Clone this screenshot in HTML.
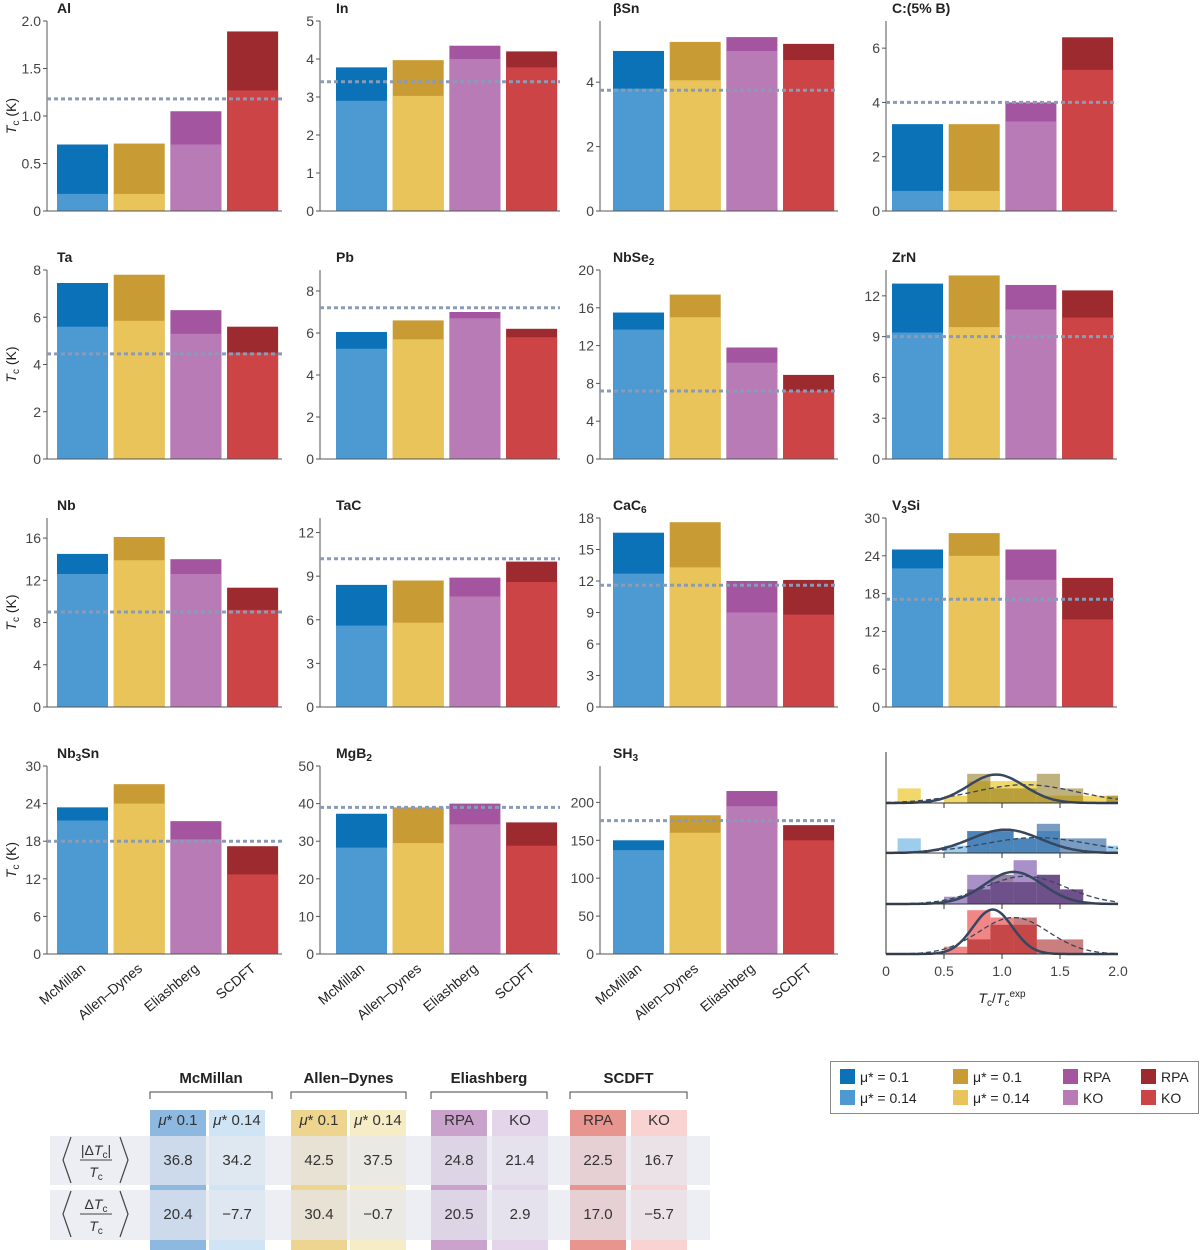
<!DOCTYPE html>
<html><head><meta charset="utf-8"><style>
body{margin:0;background:#fff;}
svg{display:block;font-family:"Liberation Sans",sans-serif;}
</style></head><body>
<svg id="fig" width="1200" height="1250" viewBox="0 0 1200 1250" xmlns="http://www.w3.org/2000/svg"></svg>
<script>
// ---- bar panel data ----
const panelNames = ["Al","In","βSn","C:(5% B)","Ta","Pb","NbSe|2","ZrN","Nb","TaC","CaC|6","V|3|Si","Nb|3|Sn","MgB|2","SH|3"];
const axisMax = [2.0,5,5.9,7,8,9,20,13.9,17.9,13,18,30,30,50,248];
const tickLabels = [
 [0,0.5,1.0,1.5,2.0],[0,1,2,3,4,5],[0,2,4],[0,2,4,6],
 [0,2,4,6,8],[0,2,4,6,8],[0,4,8,12,16,20],[0,3,6,9,12],
 [0,4,8,12,16],[0,3,6,9,12],[0,3,6,9,12,15,18],[0,6,12,18,24,30],
 [0,6,12,18,24,30],[0,10,20,30,40,50],[0,50,100,150,200]];
// totals (mu*0.1 / RPA) per method: McMillan, Allen-Dynes, Eliashberg, SCDFT
const totals = [
 [0.7,0.71,1.05,1.89],[3.78,3.97,4.35,4.2],[4.97,5.25,5.4,5.19],[3.2,3.2,4.0,6.4],
 [7.45,7.8,6.3,5.6],[6.05,6.6,7.0,6.2],[15.5,17.4,11.8,8.9],[12.9,13.5,12.8,12.4],
 [14.5,16.1,14.0,11.3],[8.4,8.7,8.9,10.0],[16.6,17.6,12.0,12.1],[25,27.6,25,20.5],
 [23.4,27.1,21.2,17.2],[37.3,39,40,35],[150,183,215,170]];
// lower values (mu*0.14 / KO)
const lowers = [
 [0.18,0.18,0.7,1.27],[2.9,3.03,4.0,3.78],[3.8,4.06,4.97,4.69],[0.74,0.74,3.3,5.2],
 [5.6,5.85,5.3,4.5],[5.25,5.7,6.7,5.8],[13.7,15,10.2,7.2],[9.3,9.7,11,10.4],
 [12.6,13.9,12.6,9.2],[5.6,5.8,7.6,8.6],[12.7,13.3,9,8.8],[22,24,20.2,13.9],
 [21.3,24,18.3,12.7],[28.3,29.5,34.5,28.8],[137,160,195,150]];
const expValues = [1.18,3.4,3.75,4.0,4.45,7.2,7.2,9.0,9.0,10.2,11.6,17.1,18.0,39,176];
const methods = ["McMillan","Allen–Dynes","Eliashberg","SCDFT"];

// ---- histogram data ----
const binStarts = [0.1,0.3,0.5,0.7,0.9,1.1,1.3,1.5,1.7,1.9];
const histLight = [[2,0,1,3,3,3,1,1,1,1],[2,0,1,3,3,2,3,0,0,1],[0,0,1,4,3,6,4,2,0,0],[0,0,1,6,5,4,0,0,0,0]];
const histDark  = [[0,0,0,4,2,2,4,2,0,1],[0,0,0,3,3,2,4,2,2,0],[0,0,0,2,4,3,4,2,0,0],[0,0,0,2,4,5,2,2,0,0]];
const fitSolidMean=[0.95,1.03,1.1,0.92], fitSolidSigma=[0.24,0.3,0.25,0.17], fitSolidAmp=[3.9,3.2,4.4,6.1];
const fitDashMean=[1.2,1.3,1.2,1.1], fitDashSigma=[0.45,0.45,0.35,0.3], fitDashAmp=[2.5,2.1,3.8,5.0];
const histTicks=[0,0.5,1.0,1.5,2.0];

// ---- table data ----
const tableCols = ["μ* 0.1","μ* 0.14","μ* 0.1","μ* 0.14","RPA","KO","RPA","KO"];
const absDev = ["36.8","34.2","42.5","37.5","24.8","21.4","22.5","16.7"];
const relDev = ["20.4","−7.7","30.4","−0.7","20.5","2.9","17.0","−5.7"];

const NS="http://www.w3.org/2000/svg";
const svg=document.getElementById('fig');
function mk(tag,attrs,parent){const e=document.createElementNS(NS,tag);for(const k in attrs)e.setAttribute(k,attrs[k]);(parent||svg).appendChild(e);return e;}
function subText(parent,str,x,y,size,weight,anchor){
  const t=mk('text',{x:x,y:y,'font-size':size,'font-weight':weight||'normal','text-anchor':anchor||'start',fill:'#222'},parent);
  str.split('|').forEach((p,i)=>{const s=mk('tspan',{},t);s.textContent=p;if(i%2==1){s.setAttribute('font-size',size*0.72);s.setAttribute('dy',3);}else if(i>0){s.setAttribute('dy',-3);}});
  return t;
}
const darkC=["#0b72b8","#c89b35","#a455a0","#9c2a2e"];
const lightC=["#4d9ad2","#e8c45a","#b87bb6","#cc4446"];
const colAxis=[47,320,600,886];
const colBar=[57,336,613,892];
const colRight=[282,560,838,1117];
const rowTop=[21,270,518,766];
const rowBase=[211,459,707,954];
const barW=51, barStep=56.7;

panelNames.forEach((name,i)=>{
  const r=Math.floor(i/4), c=i%4;
  const g=mk('g',{});
  
  
  const top=rowTop[r], base=rowBase[r], ax=colAxis[c];
  const y=v=>base-v/axisMax[i]*(base-top);
  for(let m=0;m<4;m++){
    const bx=colBar[c]+m*barStep;
    const b1=mk('rect',{x:bx,y:y(totals[i][m]),width:barW,height:base-y(totals[i][m]),fill:darkC[m]},g);
    
    
    const b2=mk('rect',{x:bx,y:y(lowers[i][m]),width:barW,height:base-y(lowers[i][m]),fill:lightC[m]},g);
    
    
  }
  mk('line',{x1:ax,y1:top,x2:ax,y2:base,stroke:'#555','stroke-width':1},g);
  mk('line',{x1:ax,y1:base,x2:colRight[c],y2:base,stroke:'#555','stroke-width':1},g);
  tickLabels[i].forEach(t=>{
    mk('line',{x1:ax-4,y1:y(t),x2:ax,y2:y(t),stroke:'#555'},g);
    const tl=mk('text',{x:ax-6,y:y(t)+5,'font-size':14,'text-anchor':'end',fill:'#444'},g);
    tl.textContent=(i==0?t.toFixed(t==0?0:1):t);
    
    
  });
  const el=mk('line',{x1:ax,y1:y(expValues[i]),x2:colRight[c],y2:y(expValues[i]),stroke:'#8a9bb8','stroke-width':3,'stroke-dasharray':'4 3'},g);
  
  
  const tt=subText(g,name,colBar[c],top-8,14,'bold');
  
  
  if(c==0){
    const cy=(top+base)/2;
    const yl=mk('text',{x:0,y:0,'font-size':14,'text-anchor':'middle',fill:'#222',transform:`translate(16,${cy}) rotate(-90)`},g);
    yl.innerHTML='<tspan font-style="italic">T</tspan><tspan font-size="10" dy="3">c</tspan><tspan dy="-3"> (K)</tspan>';
    
    
  }
  if(r==3){
    for(let m=0;m<4;m++){
      const cx=colBar[c]+m*barStep+barW/2+4;
      const xl=mk('text',{x:0,y:0,'font-size':14,'text-anchor':'end',fill:'#222',transform:`translate(${cx},${970}) rotate(-40)`},g);
      xl.textContent=methods[m];
      
      
    }
  }
});

// ---- histogram panel ----
(function(){
  const g=mk('g',{});
  
  
  const x0=886, px=116, unit=7.3;
  const X=v=>x0+v*px;
  const bases=[803,853,904,954];
  const lc=["#f0d050","#8cc3ea","#9a7cc0","#f07070"];
  const dc=["#8a7212","#0a4a90","#3e1c58","#a01414"];
  bases.forEach((b,k)=>{
    binStarts.forEach((s,j)=>{
      const w=Math.min(0.2,2.0-s);
      if(histLight[k][j]>0){const r=mk('rect',{x:X(s),y:b-histLight[k][j]*unit,width:w*px,height:histLight[k][j]*unit,fill:lc[k],opacity:0.85},g);
        }
      if(histDark[k][j]>0){const r=mk('rect',{x:X(s),y:b-histDark[k][j]*unit,width:w*px,height:histDark[k][j]*unit,fill:dc[k],opacity:0.55},g);
        }
    });
    let p1='',p2='';
    for(let v=0;v<=2.0001;v+=0.02){
      const s=fitSolidAmp[k]*unit*Math.exp(-0.5*Math.pow((v-fitSolidMean[k])/fitSolidSigma[k],2));
      const d=fitDashAmp[k]*unit*Math.exp(-0.5*Math.pow((v-fitDashMean[k])/fitDashSigma[k],2));
      p1+=(p1?'L':'M')+X(v).toFixed(1)+','+(b-s).toFixed(1);
      p2+=(p2?'L':'M')+X(v).toFixed(1)+','+(b-d).toFixed(1);
    }
    const c1=mk('path',{d:p1,fill:'none',stroke:'#36475f','stroke-width':2.5},g);
    
    const c2=mk('path',{d:p2,fill:'none',stroke:'#36475f','stroke-width':1.3,'stroke-dasharray':'5 3'},g);
    
    mk('line',{x1:x0,y1:b,x2:X(2.0),y2:b,stroke:'#333','stroke-width':1},g);
    [0.5,1.0,1.5].forEach(t=>mk('line',{x1:X(t),y1:b,x2:X(t),y2:b+5,stroke:'#333'},g));
  });
  mk('line',{x1:x0,y1:752,x2:x0,y2:954,stroke:'#333'},g);
  histTicks.forEach(t=>{
    const tl=mk('text',{x:X(t),y:976,'font-size':14,'text-anchor':'middle',fill:'#444'},g);
    tl.textContent=t==0?'0':t.toFixed(1);
    
  });
  const xt=mk('text',{x:1002,y:1003,'font-size':14,'text-anchor':'middle',fill:'#222'},g);
  xt.innerHTML='<tspan font-style="italic">T</tspan><tspan font-size="10" dy="3">c</tspan><tspan dy="-3">/</tspan><tspan font-style="italic">T</tspan><tspan font-size="10" dy="3">c</tspan><tspan font-size="10" dy="-9">exp</tspan>';
  
})();

// ---- legend ----
(function(){
  const g=mk('g',{});
  
  
  mk('rect',{x:830.5,y:1061.5,width:368,height:52,fill:'#fff',stroke:'#888'},g);
  const xs=[840,953,1063,1141];
  const labs=[["μ* = 0.1","μ* = 0.14"],["μ* = 0.1","μ* = 0.14"],["RPA","KO"],["RPA","KO"]];
  xs.forEach((x,m)=>{
    [0,1].forEach(k=>{
      const yy=1069+k*21;
      mk('rect',{x:x,y:yy,width:15,height:15,fill:k?lightC[m]:darkC[m]},g);
      const t=mk('text',{x:x+20,y:yy+13,'font-size':14,fill:'#222'},g);
      t.textContent=labs[m][k];
      
    });
  });
})();

// ---- table ----
(function(){
  const g=mk('g',{});
  
  
  const colX=[150,209,291,350,431,492,570,631], cw=56;
  const colCol=["#8db8e0","#cfe4f5","#eed58f","#f6ecc6","#c9a3cc","#e5d5ea","#e8958f","#f8d3d2"];
  colX.forEach((x,i)=>mk('rect',{x:x,y:1110,width:cw,height:140,fill:colCol[i]},g));
  mk('rect',{x:50,y:1136,width:660,height:49,fill:'#e4e8ef',opacity:0.72},g);
  mk('rect',{x:50,y:1190,width:660,height:50,fill:'#e4e8ef',opacity:0.72},g);
  const groups=["McMillan","Allen–Dynes","Eliashberg","SCDFT"];
  const gx=[[150,272],[291,406],[431,547],[570,687]];
  groups.forEach((n,i)=>{
    const t=mk('text',{x:(gx[i][0]+gx[i][1])/2,y:1083,'font-size':15,'font-weight':'bold','text-anchor':'middle',fill:'#222'},g);
    t.textContent=n;
    mk('path',{d:`M${gx[i][0]},1099V1092H${gx[i][1]}V1099`,fill:'none',stroke:'#444'},g);
  });
  colX.forEach((x,i)=>{
    const cx=x+cw/2;
    const h=mk('text',{x:cx,y:1125,'font-size':15,'text-anchor':'middle',fill:'#333'},g);
    if(tableCols[i].startsWith('μ')) h.innerHTML='<tspan font-style="italic">μ</tspan>* '+tableCols[i].slice(3); else h.textContent=tableCols[i];
    
    const a=mk('text',{x:cx,y:1165,'font-size':15,'text-anchor':'middle',fill:'#333'},g);
    a.textContent=absDev[i];
    const b=mk('text',{x:cx,y:1219,'font-size':15,'text-anchor':'middle',fill:'#333'},g);
    b.textContent=relDev[i];
  });
  [[1160,true],[1214,false]].forEach(([cy,abs])=>{
    mk('polyline',{points:`71,${cy-23} 63,${cy} 71,${cy+23}`,fill:'none',stroke:'#444','stroke-width':1.2},g);
    mk('polyline',{points:`120,${cy-23} 128,${cy} 120,${cy+23}`,fill:'none',stroke:'#444','stroke-width':1.2},g);
    mk('line',{x1:80,y1:cy,x2:112,y2:cy,stroke:'#444'},g);
    const n=mk('text',{x:96,y:cy-5,'font-size':14,'text-anchor':'middle',fill:'#333'},g);
    n.innerHTML=(abs?'|Δ':'Δ')+'<tspan font-style="italic">T</tspan><tspan font-size="10" dy="3">c</tspan><tspan dy="-3">'+(abs?'|':'')+'</tspan>';
    
    const d=mk('text',{x:96,y:cy+17,'font-size':14,'text-anchor':'middle',fill:'#333'},g);
    d.innerHTML='<tspan font-style="italic">T</tspan><tspan font-size="10" dy="3">c</tspan>';
    
  });
})();
</script>
</body></html>
